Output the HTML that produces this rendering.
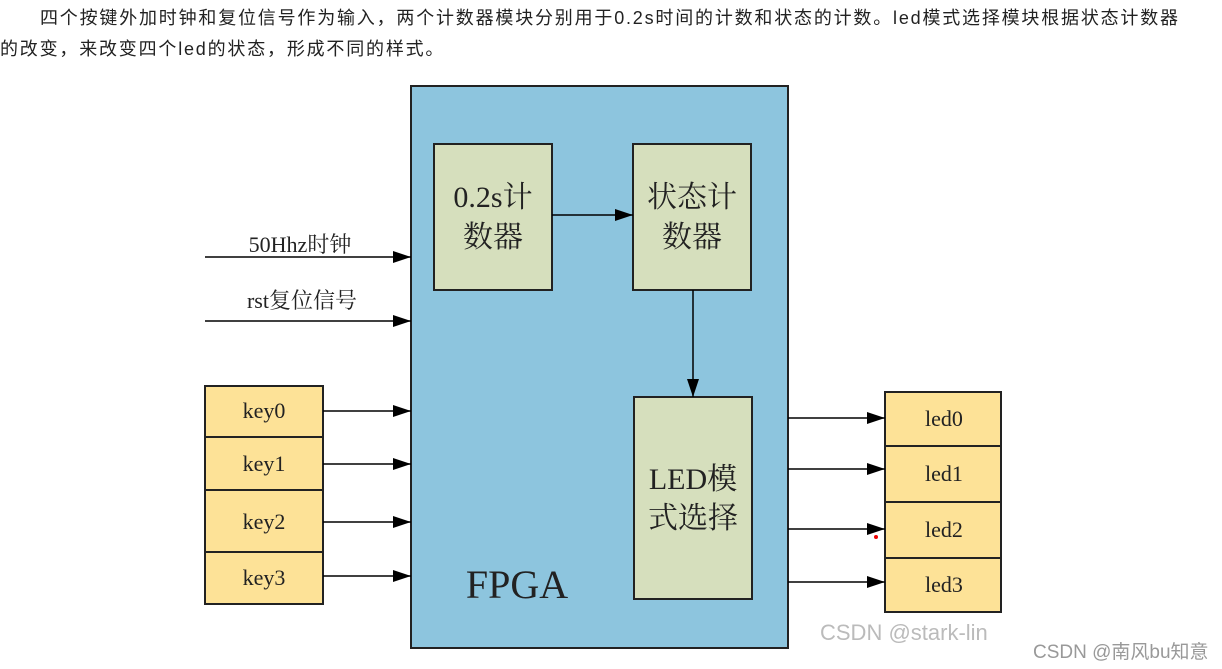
<!DOCTYPE html>
<html><head><meta charset="utf-8"><style>
body{margin:0;width:1222px;height:669px;background:#fff;position:relative;overflow:hidden;font-family:"Liberation Sans","Noto Sans CJK SC",sans-serif}
.p{position:absolute;left:0;font-size:18px;letter-spacing:1.8px;color:#222;white-space:nowrap}
</style></head><body>
<div class="p" style="top:4px;left:40px">四个按键外加时钟和复位信号作为输入，两个计数器模块分别用于0.2s时间的计数和状态的计数。led模式选择模块根据状态计数器</div>
<div class="p" style="top:35px">的改变，来改变四个led的状态，形成不同的样式。</div>
<svg width="1222" height="669" style="position:absolute;left:0;top:0" font-family="Liberation Serif,Noto Serif CJK SC,serif">
<defs>
<marker id="b" viewBox="0 0 18 12" markerWidth="18" markerHeight="12" refX="18" refY="6" orient="auto" markerUnits="userSpaceOnUse"><path d="M0,0L18,6L0,12z" fill="#000"/></marker></defs>
<rect x="411" y="86" width="377" height="562" fill="#8dc5de" stroke="#222" stroke-width="2"/>
<g fill="#d6dfbd" stroke="#222" stroke-width="2">
<rect x="434" y="144" width="118" height="146"/><rect x="633" y="144" width="118" height="146"/><rect x="634" y="397" width="118" height="202"/></g>
<g fill="#fde297" stroke="#222" stroke-width="2">
<rect x="205" y="386" width="118" height="51"/><rect x="205" y="437" width="118" height="53"/><rect x="205" y="490" width="118" height="62"/><rect x="205" y="552" width="118" height="52"/>
<rect x="885" y="392" width="116" height="54"/><rect x="885" y="446" width="116" height="56"/><rect x="885" y="502" width="116" height="56"/><rect x="885" y="558" width="116" height="54"/></g>
<g stroke="#000" stroke-width="1.5" marker-end="url(#b)">
<line x1="205" y1="257" x2="411" y2="257"/><line x1="205" y1="321" x2="411" y2="321"/>
<line x1="323" y1="411" x2="411" y2="411"/><line x1="323" y1="464" x2="411" y2="464"/><line x1="323" y1="522" x2="411" y2="522"/><line x1="323" y1="576" x2="411" y2="576"/>
<line x1="552" y1="215" x2="633" y2="215"/><line x1="693" y1="290" x2="693" y2="397"/>
<line x1="788" y1="418" x2="885" y2="418"/><line x1="788" y1="469" x2="885" y2="469"/><line x1="788" y1="529" x2="885" y2="529"/><line x1="788" y1="582" x2="885" y2="582"/></g>
<g fill="#222" text-anchor="middle">
<text x="493" y="207" font-size="30">0.2s计</text><text x="493" y="247" font-size="30">数器</text>
<text x="692" y="207" font-size="30">状态计</text><text x="692" y="247" font-size="30">数器</text>
<text x="693" y="489" font-size="30">LED模</text><text x="693" y="528" font-size="30">式选择</text>
<text x="517" y="598" font-size="40">FPGA</text>
<text x="300" y="252" font-size="22">50Hhz时钟</text><text x="302" y="308" font-size="22">rst复位信号</text>
<g font-size="22"><text x="264" y="418">key0</text><text x="264" y="471">key1</text><text x="264" y="529">key2</text><text x="264" y="585">key3</text>
<text x="944" y="426">led0</text><text x="944" y="481">led1</text><text x="944" y="537">led2</text><text x="944" y="592">led3</text></g></g>
<circle cx="876" cy="537" r="2" fill="#e00"/>
<text x="820" y="640" font-size="22" fill="#bbb" font-family="Liberation Sans,sans-serif">CSDN @stark-lin</text>
<text x="1033" y="658" font-size="19" fill="#999" font-family="Liberation Sans,Noto Sans CJK SC,sans-serif">CSDN @南风bu知意</text>
</svg>
</body></html>
